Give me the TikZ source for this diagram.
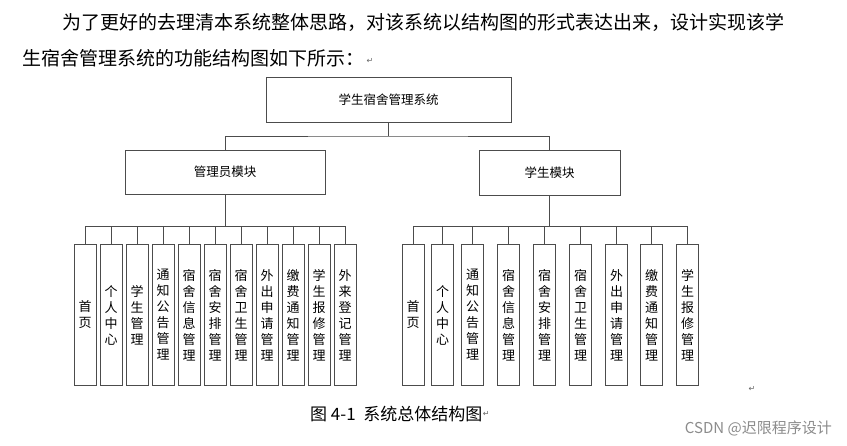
\documentclass[tikz,border=0pt]{standalone}
\usepackage{fontspec}
\newfontfamily\cjk{Noto Sans CJK SC}
\newfontfamily\dv{DejaVu Sans}
\begin{document}
\begin{tikzpicture}[x=1pt,y=-1pt,
  box/.style={draw=black!70,line width=1pt,font=\cjk\fontsize{12.5}{14}\selectfont,inner sep=0pt},
  leaf/.style={draw=black!70,line width=1pt,minimum width=22pt,minimum height=141pt,anchor=north west,inner sep=0pt,align=center,font=\cjk\fontsize{13}{16}\selectfont},
  conn/.style={draw=black!70,line width=0.9pt},
  ret/.style={font=\dv\fontsize{8}{8}\selectfont,text=black!60,inner sep=0pt}]
\useasboundingbox (0,0) rectangle (847,445);
\fill[white] (0,0) rectangle (847,445);
\node[anchor=west,inner sep=0pt,font=\cjk\fontsize{19}{20}\selectfont] (p1) at (62,22) {为了更好的去理清本系统整体思路，对该系统以结构图的形式表达出来，设计实现该学};
\node[anchor=west,inner sep=0pt,font=\cjk\fontsize{19}{20}\selectfont] (p2) at (22,58) {生宿舍管理系统的功能结构图如下所示：};
\node[ret] (r1) at (370,61) {↵};
\node[box,minimum width=245pt,minimum height=45pt] (top) at (388.5,99.5) {学生宿舍管理系统};
\node[box,minimum width=200pt,minimum height=44pt] (adm) at (225,172) {管理员模块};
\node[box,minimum width=141pt,minimum height=45pt] (stu) at (549.5,172.5) {学生模块};
\coordinate (tb) at (388.5,136);
\draw[conn] (top.south) -- (tb);
\draw[conn] (adm.north) |- (tb) -| (stu.north);
% admin leaves
\foreach \i/\t in {0/首\\页,1/个\\人\\中\\心,2/学\\生\\管\\理,3/通\\知\\公\\告\\管\\理,4/宿\\舍\\信\\息\\管\\理,5/宿\\舍\\安\\排\\管\\理,6/宿\\舍\\卫\\生\\管\\理,7/外\\出\\申\\请\\管\\理,8/缴\\费\\通\\知\\管\\理,9/学\\生\\报\\修\\管\\理,10/外\\来\\登\\记\\管\\理}{
  \node[leaf] (a\i) at ({73.5+\i*26},244) {\t};
  \draw[conn] (a\i.north) -- ++(0,-18) coordinate (ab\i);
}
\draw[conn] (ab0) -- (ab10);
\draw[conn] (adm.south) -- (adm.south |- ab0);
% student leaves
\foreach \i/\x/\t in {0/401.5/首\\页,1/431/个\\人\\中\\心,2/461/通\\知\\公\\告\\管\\理,3/497/宿\\舍\\信\\息\\管\\理,4/533/宿\\舍\\安\\排\\管\\理,5/569/宿\\舍\\卫\\生\\管\\理,6/605/外\\出\\申\\请\\管\\理,7/640/缴\\费\\通\\知\\管\\理,8/676/学\\生\\报\\修\\管\\理}{
  \node[leaf] (s\i) at (\x,244) {\t};
  \draw[conn] (s\i.north) -- ++(0,-18) coordinate (sb\i);
}
\draw[conn] (sb0) -- (sb8);
\draw[conn] (stu.south) -- (stu.south |- sb0);
\node[ret] (r2) at (752,389) {↵};
\node[anchor=west,inner sep=0pt,font=\cjk\fontsize{17}{18}\selectfont] (cap) at (310,414) {图 4-1\ \ 系统总体结构图};
\node[ret,anchor=west] (r3) at (cap.east) {↵};
\node[anchor=east,inner sep=0pt,text=black!45,font=\cjk\fontsize{15}{17}\selectfont] (wm) at (832,428) {CSDN @迟限程序设计};
\end{tikzpicture}
\end{document}
